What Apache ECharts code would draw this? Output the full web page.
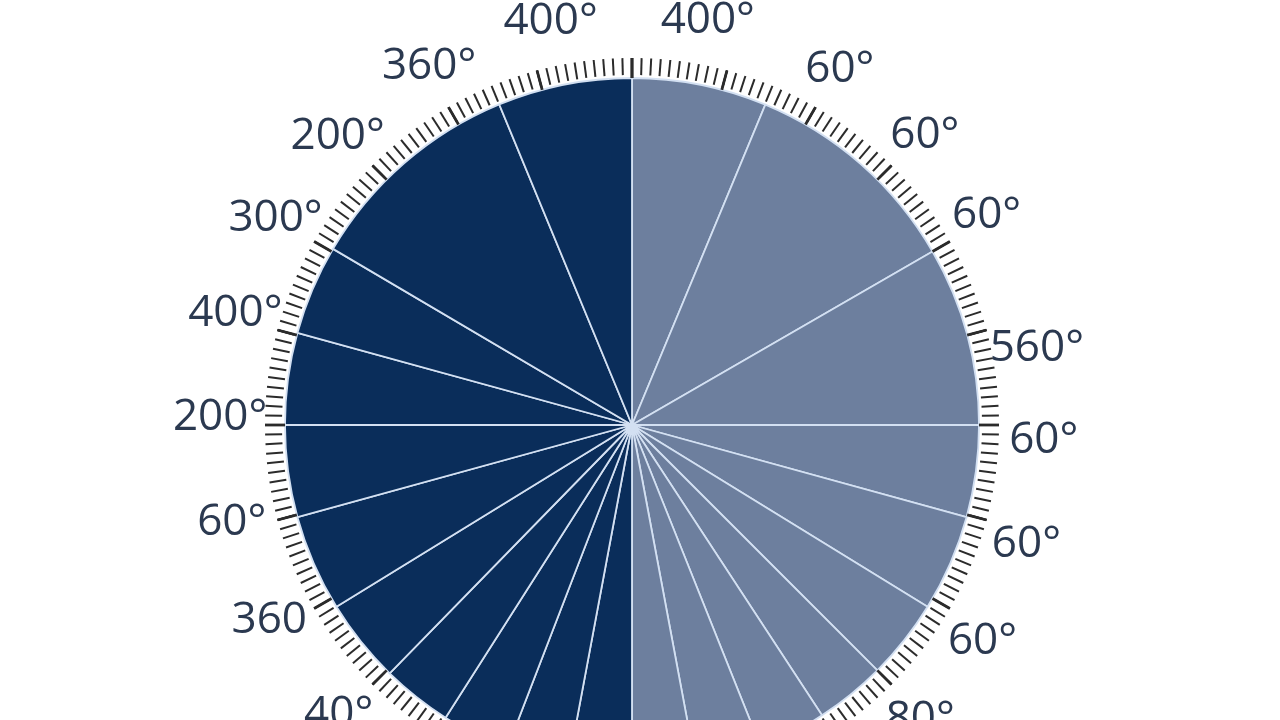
<!DOCTYPE html>
<html>
<head>
<meta charset="utf-8">
<script src="https://cdn.jsdelivr.net/npm/echarts@6/dist/echarts.min.js"></script>
<style>
html,body{margin:0;padding:0;background:#ffffff;}
#chart{width:1280px;height:720px;}
</style>
</head>
<body>
<div id="chart"></div>
<script>
// Slice sizes (degrees), clockwise from the top
const rightSlices = [22.6, 37.4, 30, 15.4, 16.2, 13.4, 11.8, 11.4, 11.2, 10.6];
const leftSlices  = [10.6, 10.5, 11.4, 11.8, 14.1, 16.2, 15.4, 15.4, 15.1, 37, 22.5];

// Outer ring labels: text and angle (degrees clockwise from top)
const ringLabels = ['400°','60°','60°','60°','560°','60°','60°','60°','80°',
                    '40°','360','60°','200°','400°','300°','200°','360°','400°'];
const ringAngles = [10.6, 30.3, 45.3, 59.4, 79.3, 92.1, 106.8, 121.7, 135.6,
                    225.4, 241.7, 256.3, 271, 285.7, 300.1, 314.4, 330.5, 348.6];

const rightColor = '#6d7f9e';
const leftColor = '#0a2d5a';

const pieData = [];
rightSlices.forEach(function (v, i) { pieData.push({ value: v, name: 'R' + i, itemStyle: { color: rightColor } }); });
leftSlices.forEach(function (v, i) { pieData.push({ value: v, name: 'L' + i, itemStyle: { color: leftColor } }); });

const labelData = ringLabels.map(function (t, i) { return { value: [1, ringAngles[i]], name: t }; });

const chart = echarts.init(document.getElementById('chart'));
chart.setOption({
  animation: false,
  backgroundColor: '#ffffff',
  polar: { center: [632, 425], radius: 412 },
  angleAxis: { type: 'value', min: 0, max: 360, startAngle: 90, clockwise: true, show: false },
  radiusAxis: { type: 'value', min: 0, max: 1, show: false },
  series: [
    {
      type: 'pie',
      center: [632, 425],
      radius: [0, 347],
      startAngle: 90,
      clockwise: true,
      label: { show: false },
      labelLine: { show: false },
      emphasis: { disabled: true },
      itemStyle: { borderColor: '#d3e0f2', borderWidth: 1.8 },
      data: pieData,
      z: 1
    },
    {
      type: 'gauge',
      center: [632, 425],
      radius: 367,
      startAngle: 90,
      endAngle: -270,
      min: 0,
      max: 360,
      splitNumber: 24,
      axisLine: { show: false, lineStyle: { width: 0 } },
      axisTick: { show: true, splitNumber: 10, distance: 0, length: 17, lineStyle: { color: '#2b2b2b', width: 2 } },
      splitLine: { show: true, distance: 0, length: 20, lineStyle: { color: '#2b2b2b', width: 2.8 } },
      axisLabel: { show: false },
      pointer: { show: false },
      anchor: { show: false },
      title: { show: false },
      detail: { show: false },
      data: [{ value: 0 }],
      z: 2
    },
    {
      type: 'scatter',
      coordinateSystem: 'polar',
      symbolSize: 0,
      itemStyle: { color: '#2b3950' },
      label: {
        show: true,
        position: 'inside',
        formatter: '{b}',
        fontFamily: 'Open Sans',
        fontSize: 44,
        color: '#2b3950',
        textBorderWidth: 0,
        opacity: 1
      },
      emphasis: { disabled: true },
      data: labelData,
      z: 3
    }
  ]
});
</script>
</body>
</html>
